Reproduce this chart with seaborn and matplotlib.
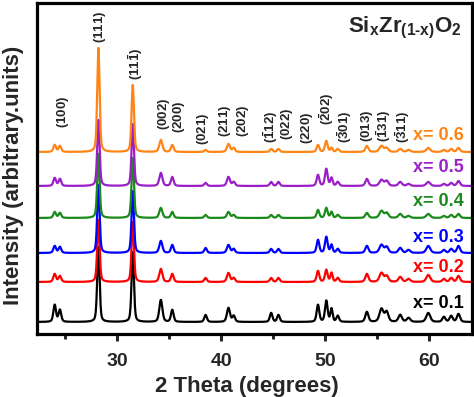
import numpy as np
import pandas as pd
import matplotlib
matplotlib.use("Agg")
import matplotlib.pyplot as plt
from matplotlib.ticker import MultipleLocator
import seaborn as sns

# ---------------- data ----------------
peak_pos = [24.0, 24.5, 28.2, 31.5, 34.2, 35.3, 38.5, 40.7, 41.2, 44.8, 45.5,
            49.3, 50.1, 50.6, 51.2, 54.0, 55.4, 55.9, 57.2, 58.0, 59.9, 61.4, 62.1, 62.8]
peak_fwhm = [0.30, 0.30, 0.27, 0.27, 0.35, 0.30, 0.30, 0.35, 0.30, 0.30, 0.30,
             0.30, 0.30, 0.25, 0.30, 0.35, 0.45, 0.40, 0.40, 0.40, 0.45, 0.35, 0.35, 0.35]

series_names = ["x= 0.1", "x= 0.2", "x= 0.3", "x= 0.4", "x= 0.5", "x= 0.6"]
h_x01 = [17, 12, 75, 70, 22, 12, 7, 14, 6, 9, 7, 17, 21, 13, 6, 10, 13, 10, 7, 4, 9, 5, 6, 8]
h_x02 = [8, 6, 62, 60, 13, 8, 4, 9, 4, 4, 4, 11, 12, 9, 4, 8, 9, 6, 5, 3, 7, 3, 4, 6]
h_x03 = [7, 6, 68, 62, 12, 8, 5, 8, 4, 4, 4, 13, 16, 8, 4, 7, 8, 6, 5, 3, 7, 3, 4, 7]
h_x04 = [6, 5, 64, 60, 10, 6, 3, 6, 3, 3, 3, 8, 10, 6, 3, 5, 7, 5, 4, 2, 4, 2, 3, 4]
h_x05 = [8, 7, 66, 62, 13, 9, 3, 9, 4, 4, 4, 11, 17, 8, 4, 7, 6, 5, 4, 2, 4, 2, 3, 5]
h_x06 = [7, 6, 104, 67, 12, 7, 2, 8, 4, 3, 3, 7, 11, 4, 3, 6, 6, 4, 3, 2, 4, 2, 3, 4]
heights = [h_x01, h_x02, h_x03, h_x04, h_x05, h_x06]

# vertical stacking offsets (arbitrary units)
offsets = [12, 52, 81, 116, 148, 182]

hkl_labels = [r"(100)", r"(111)", r"(11\bar{1})", r"(002)", r"(200)", r"(021)",
              r"(211)", r"(202)", r"(\bar{1}12)", r"(022)", r"(220)", r"(\bar{2}02)",
              r"(\bar{3}01)", r"(013)", r"(\bar{1}31)", r"(\bar{3}11)"]
# label layout (x in degrees, bottom in plot units)
hkl_x = [24.8, 28.37, 31.73, 34.5, 35.9, 38.27, 40.4, 42.1, 44.7, 46.35,
         48.27, 50.1, 51.9, 54.05, 55.65, 57.45]
hkl_y = [206, 291, 254, 204, 201, 189, 197, 197, 191, 194, 190, 209, 191, 192, 192, 191]

colors = ["#000000", "#ff0000", "#0000ff", "#1a8a1a", "#9a1fc8", "#ff8414"]
label_y = [31, 66, 97, 132, 166, 199]

# ---------------- build profiles from the peak lists ----------------
tt = np.arange(22.2, 64.2, 0.01)
frames = []
for name, h, off in zip(series_names, heights, offsets):
    y = np.full_like(tt, float(off))
    for p, w, a in zip(peak_pos, peak_fwhm, h):
        g = np.exp(-4 * np.log(2) * ((tt - p) / w) ** 2)
        l = 1.0 / (1.0 + 4 * ((tt - p) / w) ** 2)
        y += a * (0.6 * g + 0.4 * l)
    frames.append(pd.DataFrame({"two_theta": tt, "intensity": y, "sample": name}))
df = pd.concat(frames, ignore_index=True)

# ---------------- styling ----------------
sns.set_theme(style="white")
plt.rcParams["font.family"] = ["Liberation Sans", "DejaVu Sans"]
plt.rcParams["mathtext.fontset"] = "custom"
plt.rcParams["mathtext.rm"] = "Liberation Sans:bold"
plt.rcParams["mathtext.bf"] = "Liberation Sans:bold"
plt.rcParams["mathtext.it"] = "Liberation Sans:bold"

fig = plt.figure(figsize=(4.74, 3.97), dpi=100)
ax = fig.add_axes([37 / 474, 63 / 397, 435 / 474, 331 / 397])

sns.lineplot(data=df, x="two_theta", y="intensity", hue="sample",
             hue_order=series_names, palette=colors, estimator=None, sort=False,
             linewidth=1.6, legend=False, ax=ax)

ax.set_xlim(22.3, 64.1)
ax.set_ylim(0, 331)
ax.set_yticks([])
ax.xaxis.set_major_locator(MultipleLocator(10))
ax.xaxis.set_minor_locator(MultipleLocator(5))
ax.tick_params(axis="x", which="major", direction="out", length=5, width=2.2,
               labelsize=14, pad=9, bottom=True, top=False)
ax.tick_params(axis="x", which="minor", direction="out", length=3.5, width=2.2,
               bottom=True, top=False)
for lab in ax.get_xticklabels():
    lab.set_fontweight("bold")
for s in ax.spines.values():
    s.set_linewidth(2.3)
    s.set_color("black")

ax.set_xlabel("2 Theta (degrees)", fontsize=16, fontweight="bold", labelpad=4)
ax.xaxis.label.set_x(0.482)
ax.set_ylabel("Intensity (arbitrary.units)", fontsize=16, fontweight="bold")
ax.yaxis.set_label_coords(-0.030, 0.48)

for txt, x, y in zip(hkl_labels, hkl_x, hkl_y):
    ax.text(x, y, "$" + txt + "$", rotation=90, ha="center", va="bottom",
            fontsize=9.5)

for name, c, y in zip(series_names, colors, label_y):
    ax.text(63.3, y, name, color=c, ha="right", va="center",
            fontsize=13, fontweight="bold")

ax.text(0.977, 0.965, r"$\mathbf{Si_xZr_{(1\text{-}x)}O_2}$", transform=ax.transAxes,
        ha="right", va="top", fontsize=16)

fig.savefig("out.png", dpi=100)
